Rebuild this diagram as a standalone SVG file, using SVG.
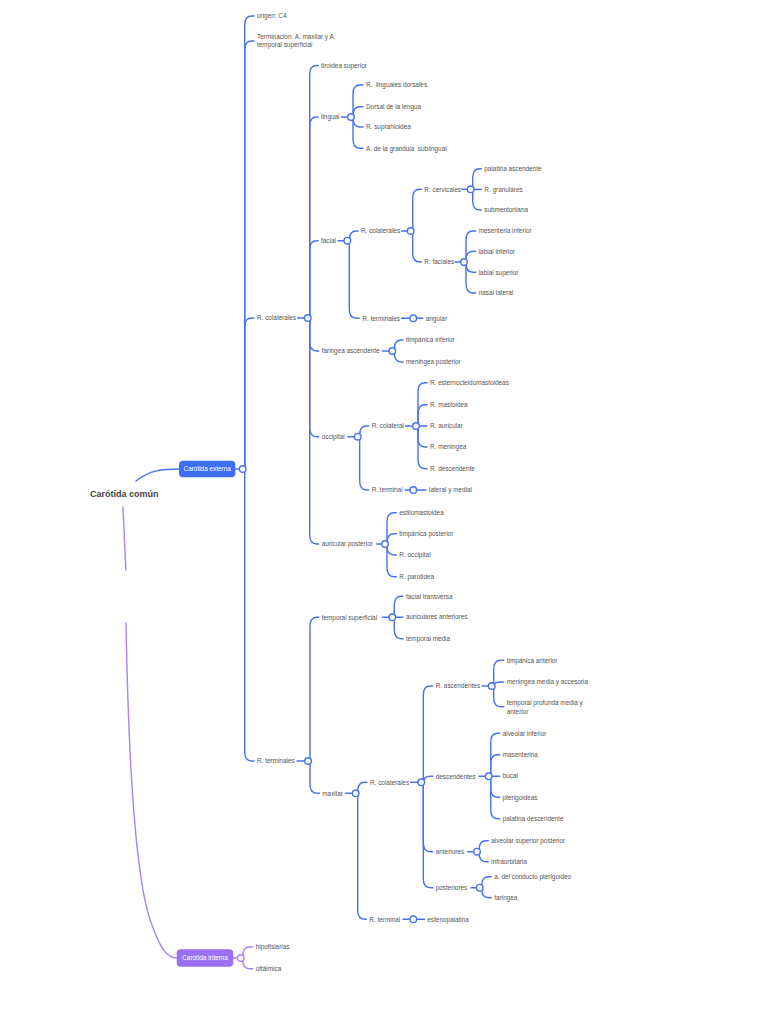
<svg xmlns="http://www.w3.org/2000/svg" width="768" height="1024" viewBox="0 0 768 1024">
<style>
.t{font-family:"Liberation Sans",Arial,sans-serif;font-size:6.4px;fill:#555}
.pre{white-space:pre}
.root{font-family:"Liberation Sans",Arial,sans-serif;font-size:9px;font-weight:bold;fill:#444}
.bt{font-family:"Liberation Sans",Arial,sans-serif;font-size:6.4px;fill:#fff}
.b{fill:none;stroke:#4672f1;stroke-width:1.4;stroke-linecap:round}
.p{fill:none;stroke:#a783f5;stroke-width:1.4;stroke-linecap:round}
.cb{fill:#fff;stroke:#4672f1;stroke-width:1.4}
.cp{fill:#fff;stroke:#a783f5;stroke-width:1.4}
</style>
<rect width="768" height="1024" fill="#fff"/>
<g id="connectors">
<path class="b" d="M136,481 C150,470 162,469 179,469"/>
<path class="p" d="M123,507 L125.8,570"/>
<path class="p" d="M126,623 C129,790 138,890 152,925 C160,948 167,958 176.7,958"/>
<path class="b" d="M235.3,469 H239.4"/>
<path class="b" d="M244.7,469 V25 C244.7,19 246.7,16 251.7,16 H254"/>
<path class="b" d="M244.7,469 V50 C244.7,44 246.7,41 251.7,41 H254"/>
<path class="b" d="M244.7,469 V327 C244.7,321 246.7,318 251.7,318 H254"/>
<path class="b" d="M244.7,469 V752 C244.7,758 246.7,761 251.7,761 H254"/>
<path class="b" d="M297.5,318 H304.4"/>
<path class="b" d="M309.7,318 V74.5 C309.7,68.5 311.7,65.5 316.7,65.5 H318"/>
<path class="b" d="M309.7,318 V126 C309.7,120 311.7,117 316.7,117 H318"/>
<path class="b" d="M309.7,318 V249.7 C309.7,243.7 311.7,240.7 316.7,240.7 H318"/>
<path class="b" d="M309.7,318 V342 C309.7,348 311.7,351 316.7,351 H318.7"/>
<path class="b" d="M309.7,318 V427.7 C309.7,433.7 311.7,436.7 316.7,436.7 H318.7"/>
<path class="b" d="M309.7,318 V535 C309.7,541 311.7,544 316.7,544 H318.7"/>
<path class="b" d="M297,761 H304.7"/>
<path class="b" d="M310,761 V626.3 C310,620.3 312,617.3 317,617.3 H318.7"/>
<path class="b" d="M310,761 V784.3 C310,790.3 312,793.3 317,793.3 H319.3"/>
<path class="b" d="M341,117 H347.7"/>
<path class="b" d="M353,117 V94 C353,88 355,85 360,85 H363"/>
<path class="b" d="M353,117 V115.7 C353,109.7 355,106.7 360,106.7 H363"/>
<path class="b" d="M353,117 V118 C353,124 355,127 360,127 H363"/>
<path class="b" d="M353,117 V139.3 C353,145.3 355,148.3 360,148.3 H363"/>
<path class="b" d="M338,240.7 H344"/>
<path class="b" d="M349.3,240.7 V240 C349.3,234 351.3,231 356.3,231 H358"/>
<path class="b" d="M349.3,240.7 V309.3 C349.3,315.3 351.3,318.3 356.3,318.3 H359.3"/>
<path class="b" d="M401.5,231 H407.4"/>
<path class="b" d="M412.7,231 V198.3 C412.7,192.3 414.7,189.3 419.7,189.3 H421.3"/>
<path class="b" d="M412.7,231 V253 C412.7,259 414.7,262 419.7,262 H421.3"/>
<path class="b" d="M461.5,189.3 H467.4"/>
<path class="b" d="M472.7,189.3 V177.7 C472.7,171.7 474.7,168.7 479.7,168.7 H481.3"/>
<path class="b" d="M474,189.5 H481.3"/>
<path class="b" d="M472.7,189.3 V201 C472.7,207 474.7,210 479.7,210 H481.3"/>
<path class="b" d="M455,262 H460.7"/>
<path class="b" d="M466,262 V240 C466,234 468,231 473,231 H475.7"/>
<path class="b" d="M466,262 V260.3 C466,254.3 468,251.3 473,251.3 H475.7"/>
<path class="b" d="M466,262 V263.3 C466,269.3 468,272.3 473,272.3 H475.7"/>
<path class="b" d="M466,262 V284 C466,290 468,293 473,293 H475.7"/>
<path class="b" d="M401.5,318.3 H410"/>
<path class="b" d="M416.6,318.3 H423"/>
<path class="b" d="M382.5,351 H389"/>
<path class="b" d="M394.3,351 V349 C394.3,343 396.3,340 401.3,340 H403"/>
<path class="b" d="M394.3,351 V353 C394.3,359 396.3,362 401.3,362 H403"/>
<path class="b" d="M348,436.7 H354.4"/>
<path class="b" d="M359.7,436.7 V435 C359.7,429 361.7,426 366.7,426 H368.7"/>
<path class="b" d="M359.7,436.7 V481 C359.7,487 361.7,490 366.7,490 H368.7"/>
<path class="b" d="M405.5,426 H412.7"/>
<path class="b" d="M418,426 V391.7 C418,385.7 420,382.7 425,382.7 H427"/>
<path class="b" d="M418,426 V413.7 C418,407.7 420,404.7 425,404.7 H427"/>
<path class="b" d="M419.3,426 H427"/>
<path class="b" d="M418,426 V438 C418,444 420,447 425,447 H427"/>
<path class="b" d="M418,426 V459.7 C418,465.7 420,468.7 425,468.7 H427"/>
<path class="b" d="M405,490 H410"/>
<path class="b" d="M416.6,490 H426"/>
<path class="b" d="M376.5,544 H381.7"/>
<path class="b" d="M387,544 V521.7 C387,515.7 389,512.7 394,512.7 H396.3"/>
<path class="b" d="M387,544 V542.7 C387,536.7 389,533.7 394,533.7 H396.3"/>
<path class="b" d="M387,544 V546 C387,552 389,555 394,555 H396.3"/>
<path class="b" d="M387,544 V567.7 C387,573.7 389,576.7 394,576.7 H396.3"/>
<path class="b" d="M382.5,617.3 H389"/>
<path class="b" d="M394.3,617.3 V605.3 C394.3,599.3 396.3,596.3 401.3,596.3 H403"/>
<path class="b" d="M395.6,617.2 H403"/>
<path class="b" d="M394.3,617.3 V629.7 C394.3,635.7 396.3,638.7 401.3,638.7 H403"/>
<path class="b" d="M345.5,793.3 H352.4"/>
<path class="b" d="M357.7,793.3 V791.3 C357.7,785.3 359.7,782.3 364.7,782.3 H367"/>
<path class="b" d="M357.7,793.3 V910.3 C357.7,916.3 359.7,919.3 364.7,919.3 H366.3"/>
<path class="b" d="M410.5,782.3 H418"/>
<path class="b" d="M423.3,782.3 V695 C423.3,689 425.3,686 430.3,686 H432.7"/>
<path class="b" d="M423.3,782.3 C423.3,778 425.3,776.3 430.3,776.3 H432.7"/>
<path class="b" d="M423.3,782.3 V842.7 C423.3,848.7 425.3,851.7 430.3,851.7 H432.7"/>
<path class="b" d="M423.3,782.3 V878.7 C423.3,884.7 425.3,887.7 430.3,887.7 H432.7"/>
<path class="b" d="M482,686 H488.4"/>
<path class="b" d="M493.7,686 V669.3 C493.7,663.3 495.7,660.3 500.7,660.3 H503.7"/>
<path class="b" d="M493.7,686 C493.7,683 495.7,682 500.7,682 H503.7"/>
<path class="b" d="M493.7,686 V697.7 C493.7,703.7 495.7,706.7 500.7,706.7 H503.7"/>
<path class="b" d="M479,776.3 H485.4"/>
<path class="b" d="M490.7,776.3 V742.3 C490.7,736.3 492.7,733.3 497.7,733.3 H499.7"/>
<path class="b" d="M490.7,776.3 V763.7 C490.7,757.7 492.7,754.7 497.7,754.7 H499.7"/>
<path class="b" d="M492,776.2 H499.7"/>
<path class="b" d="M490.7,776.3 V788.3 C490.7,794.3 492.7,797.3 497.7,797.3 H499.7"/>
<path class="b" d="M490.7,776.3 V809.7 C490.7,815.7 492.7,818.7 497.7,818.7 H499.7"/>
<path class="b" d="M467.5,851.7 H473.7"/>
<path class="b" d="M479,851.7 V849.7 C479,843.7 481,840.7 486,840.7 H488.3"/>
<path class="b" d="M479,851.7 V852.7 C479,858.7 481,861.7 486,861.7 H488.3"/>
<path class="b" d="M471,887.7 H476.4"/>
<path class="b" d="M481.7,887.7 V885.7 C481.7,879.7 483.7,876.7 488.7,876.7 H491.3"/>
<path class="b" d="M481.7,887.7 V888.7 C481.7,894.7 483.7,897.7 488.7,897.7 H491.3"/>
<path class="b" d="M403,919.3 H410"/>
<path class="b" d="M416.6,919.3 H424.5"/>
<path class="p" d="M233.3,958 H237.4"/>
<path class="p" d="M242.7,958 V956 C242.7,950 244.7,947 249.7,947 H252.7"/>
<path class="p" d="M242.7,958 V959.7 C242.7,965.7 244.7,968.7 249.7,968.7 H252.7"/>
<circle class="cb" cx="242.7" cy="469" r="3.3"/>
<circle class="cb" cx="307.7" cy="318" r="3.3"/>
<circle class="cb" cx="308" cy="761" r="3.3"/>
<circle class="cb" cx="351" cy="117" r="3.3"/>
<circle class="cb" cx="347.3" cy="240.7" r="3.3"/>
<circle class="cb" cx="410.7" cy="231" r="3.3"/>
<circle class="cb" cx="470.7" cy="189.3" r="3.3"/>
<circle class="cb" cx="464" cy="262" r="3.3"/>
<circle class="cb" cx="413.3" cy="318.3" r="3.3"/>
<circle class="cb" cx="392.3" cy="351" r="3.3"/>
<circle class="cb" cx="357.7" cy="436.7" r="3.3"/>
<circle class="cb" cx="416" cy="426" r="3.3"/>
<circle class="cb" cx="413.3" cy="490" r="3.3"/>
<circle class="cb" cx="385" cy="544" r="3.3"/>
<circle class="cb" cx="392.3" cy="617.3" r="3.3"/>
<circle class="cb" cx="355.7" cy="793.3" r="3.3"/>
<circle class="cb" cx="421.3" cy="782.3" r="3.3"/>
<circle class="cb" cx="491.7" cy="686" r="3.3"/>
<circle class="cb" cx="488.7" cy="776.3" r="3.3"/>
<circle class="cb" cx="477" cy="851.7" r="3.3"/>
<circle class="cb" cx="479.7" cy="887.7" r="3.3"/>
<circle class="cb" cx="413.3" cy="919.3" r="3.3"/>
<circle class="cp" cx="240.7" cy="958" r="3.3"/>
</g>
<g id="n-root"><text class="root" x="90" y="496.5">Carótida común</text></g>
<g id="n-externa"><rect x="179" y="460.7" width="56.3" height="16.6" rx="4" fill="#3e6ef4"/><text class="bt" x="207.2" y="471.2" text-anchor="middle">Carótida externa</text></g>
<g id="n-interna"><rect x="176.7" y="949.3" width="56.6" height="17.4" rx="4" fill="#9b70f1"/><text class="bt" x="205" y="960.2" text-anchor="middle">Carótida interna</text></g>
<g id="n-origen"><text class="t" x="257" y="18.2">origen: C4</text></g>
<g id="n-terminacion"><text class="t" x="257" y="38.9">Terminación: A. maxilar y A.</text><text class="t" x="257" y="47.2">temporal superficial</text></g>
<g id="n-rcolaterales"><text class="t" x="257" y="320.2">R. colaterales</text></g>
<g id="n-rterminales"><text class="t" x="257" y="763.2">R. terminales</text></g>
<g id="n-tiroidea"><text class="t" x="321" y="67.7">tiroidea superior</text></g>
<g id="n-lingual"><text class="t" x="321" y="119.2">lingual</text></g>
<g id="n-linguales"><text class="t pre" x="366" y="87.2">R.  linguales dorsales</text></g>
<g id="n-dorsal"><text class="t" x="366" y="108.9">Dorsal de la lengua</text></g>
<g id="n-suprahioidea"><text class="t" x="366" y="129.2">R. suprahioidea</text></g>
<g id="n-sublingual"><text class="t pre" x="366" y="150.5">A. de la grandula  sublingual</text></g>
<g id="n-facial"><text class="t" x="321" y="242.9">facial</text></g>
<g id="n-fcolaterales"><text class="t" x="361" y="233.2">R. colaterales</text></g>
<g id="n-cervicales"><text class="t" x="424.3" y="191.5">R. cervicales</text></g>
<g id="n-palatinaasc"><text class="t" x="484.3" y="170.9">palatina ascendente</text></g>
<g id="n-granulares"><text class="t" x="484.3" y="191.9">R. granulares</text></g>
<g id="n-submentoniana"><text class="t" x="484.3" y="212.2">submentoniana</text></g>
<g id="n-faciales"><text class="t" x="424.3" y="264.2">R. faciales</text></g>
<g id="n-mesenteria"><text class="t" x="478.7" y="233.2">mesenteria inferior</text></g>
<g id="n-labialinf"><text class="t" x="478.7" y="253.5">labial inferior</text></g>
<g id="n-labialsup"><text class="t" x="478.7" y="274.5">labial superior</text></g>
<g id="n-nasal"><text class="t" x="478.7" y="295.2">nasal lateral</text></g>
<g id="n-fterminales"><text class="t" x="362.3" y="320.5">R. terminales</text></g>
<g id="n-angular"><text class="t" x="425.7" y="320.5">angular</text></g>
<g id="n-faringea"><text class="t" x="321.7" y="353.2">faringea ascendente</text></g>
<g id="n-timpinf"><text class="t" x="406" y="342.2">timpánica inferior</text></g>
<g id="n-meningpost"><text class="t" x="406" y="364.2">meningea posterior</text></g>
<g id="n-occipital"><text class="t" x="321.7" y="438.9">occipital</text></g>
<g id="n-ocolateral"><text class="t" x="371.7" y="428.2">R. colateral</text></g>
<g id="n-esterno"><text class="t" x="430" y="384.9">R. esternocleidomastoideas</text></g>
<g id="n-mastoidea"><text class="t" x="430" y="406.9">R. mastoidea</text></g>
<g id="n-auricular"><text class="t" x="430" y="428.2">R. auricular</text></g>
<g id="n-meningea"><text class="t" x="430" y="449.2">R. meningea</text></g>
<g id="n-descendente"><text class="t" x="430" y="470.9">R. descendente</text></g>
<g id="n-oterminal"><text class="t" x="371.7" y="492.2">R. terminal</text></g>
<g id="n-lateral"><text class="t" x="429" y="492.2">lateral y medial</text></g>
<g id="n-auricularpost"><text class="t" x="321.7" y="546.2">auricular posterior</text></g>
<g id="n-estilomastoidea"><text class="t" x="399.3" y="514.9">estilomastoidea</text></g>
<g id="n-timppost"><text class="t" x="399.3" y="535.9">timpánica posterior</text></g>
<g id="n-roccipital"><text class="t" x="399.3" y="557.2">R. occipital</text></g>
<g id="n-parotidea"><text class="t" x="399.3" y="578.9">R. parotidea</text></g>
<g id="n-tempsup"><text class="t" x="321.7" y="619.5">temporal superficial</text></g>
<g id="n-facialtrans"><text class="t" x="406" y="598.5">facial transversa</text></g>
<g id="n-auricularesant"><text class="t" x="406" y="619.2">auriculares anteriores</text></g>
<g id="n-tempmedia"><text class="t" x="406" y="640.9">temporal media</text></g>
<g id="n-maxilar"><text class="t" x="322.3" y="795.5">maxilar</text></g>
<g id="n-mcolaterales"><text class="t" x="370" y="784.5">R. colaterales</text></g>
<g id="n-ascendentes"><text class="t" x="435.7" y="688.2">R. ascendentes</text></g>
<g id="n-timpant"><text class="t" x="506.7" y="662.5">timpánica anterior</text></g>
<g id="n-meningmedia"><text class="t" x="506.7" y="684.2">meningea media y accesoria</text></g>
<g id="n-tempprof"><text class="t" x="506.7" y="704.9">temporal profunda media y</text><text class="t" x="506.7" y="714.2">anterior</text></g>
<g id="n-descendentes"><text class="t" x="435.7" y="778.5">descendentes</text></g>
<g id="n-alvinf"><text class="t" x="502.7" y="735.5">alveolar inferior</text></g>
<g id="n-masenterina"><text class="t" x="502.7" y="756.9">masenterina</text></g>
<g id="n-bucal"><text class="t" x="502.7" y="778.2">bucal</text></g>
<g id="n-pterigoideas"><text class="t" x="502.7" y="799.5">pterigoideas</text></g>
<g id="n-palatinadesc"><text class="t" x="502.7" y="820.9">palatina descendente</text></g>
<g id="n-anteriores"><text class="t" x="435.7" y="853.9">anteriores</text></g>
<g id="n-alvsup"><text class="t" x="491.3" y="842.9">alveolar superior posterior</text></g>
<g id="n-infraorbitaria"><text class="t" x="491.3" y="863.9">infraorbitaria</text></g>
<g id="n-posteriores"><text class="t" x="435.7" y="889.9">posteriores</text></g>
<g id="n-conducto"><text class="t" x="494.3" y="878.9">a. del conducto pterigoideo</text></g>
<g id="n-faringea2"><text class="t" x="494.3" y="899.9">faringea</text></g>
<g id="n-mterminal"><text class="t" x="369.3" y="921.5">R. terminal</text></g>
<g id="n-esfenopalatina"><text class="t" x="427.3" y="921.5">esfenopalatina</text></g>
<g id="n-hipofisiarias"><text class="t" x="255.7" y="949.2">hipofisiarias</text></g>
<g id="n-oftalmica"><text class="t" x="255.7" y="970.9">oftálmica</text></g>
</svg>
